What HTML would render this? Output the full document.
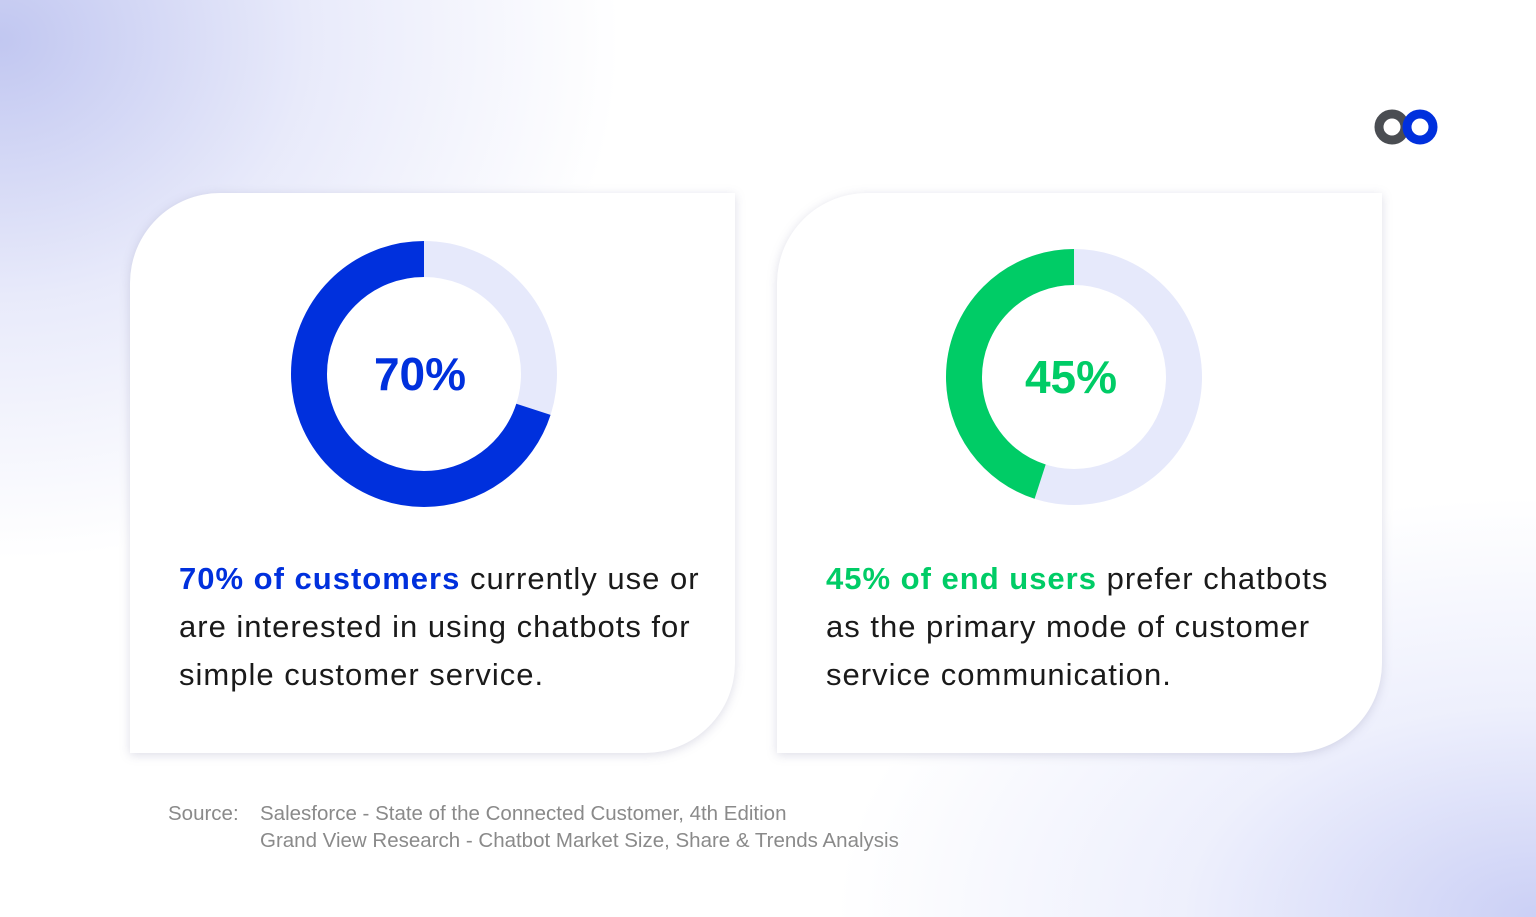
<!DOCTYPE html>
<html><head><style>
html,body{margin:0;padding:0}
body{width:1536px;height:917px;position:relative;overflow:hidden;font-family:"Liberation Sans",sans-serif;
background:
radial-gradient(ellipse 620px 520px at 0px 40px,rgba(190,196,240,0.95),rgba(210,214,246,0.5) 50%,rgba(255,255,255,0) 100%),
radial-gradient(ellipse 700px 420px at 1536px 917px,rgba(200,205,245,0.95),rgba(220,224,250,0.5) 50%,rgba(255,255,255,0) 100%),
#fff;}
.card{position:absolute;top:193px;width:605px;height:560px;background:#fff;border-radius:90px 0 90px 0;box-shadow:0 2px 10px rgba(120,120,160,0.25)}
.txt{position:absolute;left:49px;top:362px;font-size:31px;line-height:48px;color:#1a1a1a;white-space:nowrap;letter-spacing:1px}
.b{font-weight:bold}
svg{position:absolute;left:0;top:0}
.src{position:absolute;font-size:20.5px;color:#8a8a8a;line-height:27px;white-space:nowrap}
</style></head><body>
<div class="card" style="left:130px">
<svg width="605" height="560">
<circle cx="294" cy="181" r="115" fill="none" stroke="#e6e9fb" stroke-width="36"/>
<circle cx="294" cy="181" r="115" fill="none" stroke="#0030dd" stroke-width="36" stroke-dasharray="505.8 1000" transform="rotate(-90 294 181) scale(1,-1) translate(0,-362)" />
<text x="290" y="197" text-anchor="middle" font-family="Liberation Sans" font-weight="bold" font-size="46" fill="#0030dd">70%</text>
</svg>
<div class="txt"><span class="b" style="color:#0030dd">70% of customers</span> currently use or<br>are interested in using chatbots for<br>simple customer service.</div>
</div>
<div class="card" style="left:777px">
<svg width="605" height="560">
<circle cx="297" cy="184" r="110" fill="none" stroke="#e6e9fb" stroke-width="36"/>
<circle cx="297" cy="184" r="110" fill="none" stroke="#00cc66" stroke-width="36" stroke-dasharray="311 1000" transform="rotate(-90 297 184) scale(1,-1) translate(0,-368)"/>
<text x="294" y="200" text-anchor="middle" font-family="Liberation Sans" font-weight="bold" font-size="46" fill="#00cc66">45%</text>
</svg>
<div class="txt"><span class="b" style="color:#00cc66">45% of end users</span> prefer chatbots<br>as the primary mode of customer<br>service communication.</div>
</div>
<svg width="1536" height="917" style="pointer-events:none">
<circle cx="1392" cy="127" r="13" fill="none" stroke="#4a4d52" stroke-width="9"/>
<circle cx="1420" cy="127" r="13" fill="none" stroke="#0030dd" stroke-width="9"/>
</svg>
<div class="src" style="left:168px;top:800px">Source:</div>
<div class="src" style="left:260px;top:800px">Salesforce - State of the Connected Customer, 4th Edition<br>Grand View Research - Chatbot Market Size, Share &amp; Trends Analysis</div>
</body></html>
